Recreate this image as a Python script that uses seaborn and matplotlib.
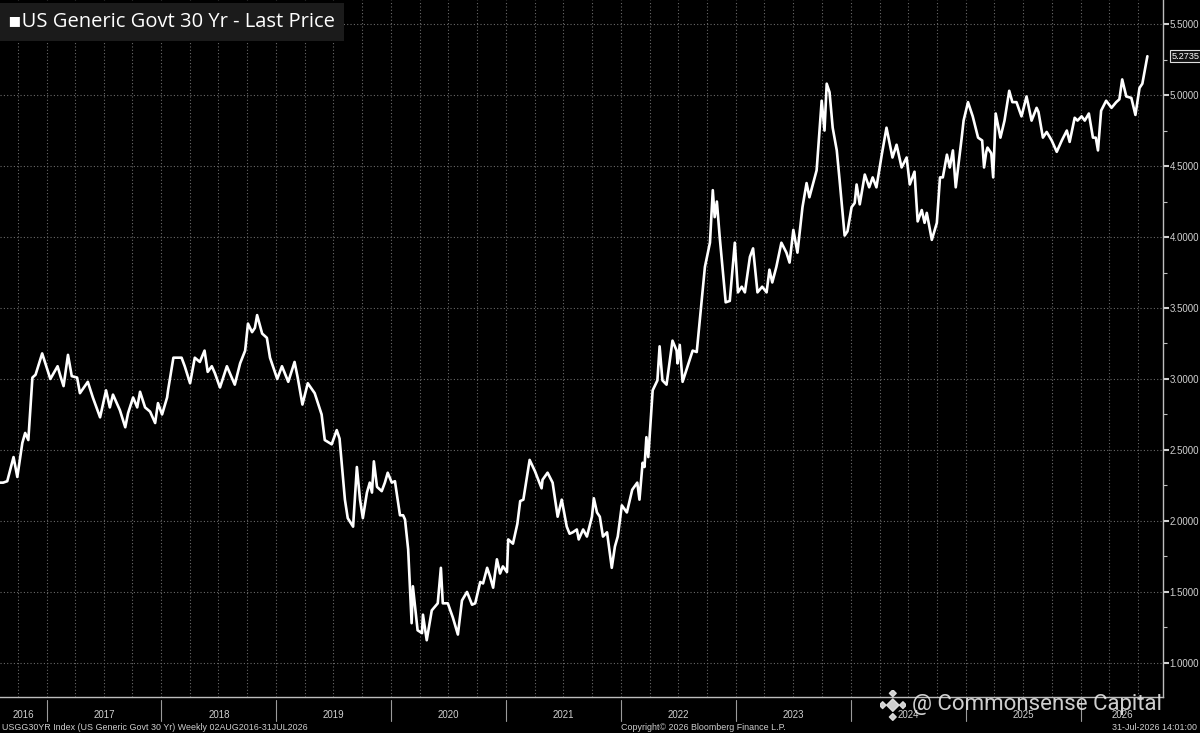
import pandas as pd
import numpy as np
import matplotlib.pyplot as plt
import matplotlib.dates as mdates
import matplotlib.ticker as mticker
import seaborn as sns

# --- data (weekly US 30y yield, approx. points) ---
dates = [
    '2016-08-02', '2016-08-16', '2016-08-29', '2016-09-18', '2016-09-30', '2016-10-16', '2016-10-25',
    '2016-11-04', '2016-11-17', '2016-11-27', '2016-12-18',
    '2017-01-13', '2017-02-05', '2017-02-14', '2017-02-24', '2017-03-10', '2017-03-22', '2017-04-08',
    '2017-04-17', '2017-05-12', '2017-05-28', '2017-06-20', '2017-07-09', '2017-07-21', '2017-07-31',
    '2017-08-22', '2017-09-08', '2017-09-17', '2017-10-03', '2017-10-16', '2017-10-25', '2017-11-10',
    '2017-11-26', '2017-12-12', '2017-12-21',
    '2018-01-03', '2018-01-19', '2018-01-22', '2018-02-08', '2018-03-06', '2018-03-16', '2018-04-02',
    '2018-04-17', '2018-05-03', '2018-05-18', '2018-05-28', '2018-06-10', '2018-06-20', '2018-07-06',
    '2018-07-28', '2018-08-22', '2018-09-08', '2018-09-24', '2018-10-03', '2018-10-16', '2018-10-25',
    '2018-11-01', '2018-11-17', '2018-12-02', '2018-12-12',
    '2019-01-04', '2019-01-19', '2019-02-08', '2019-02-28', '2019-03-10', '2019-03-25', '2019-04-11',
    '2019-05-03', '2019-05-25', '2019-06-04', '2019-06-26', '2019-07-12', '2019-07-21', '2019-08-07',
    '2019-08-16', '2019-09-02', '2019-09-14', '2019-09-24', '2019-10-03', '2019-10-16', '2019-10-25',
    '2019-11-01', '2019-11-07', '2019-11-17', '2019-12-02', '2019-12-12', '2019-12-21',
    '2020-01-03', '2020-01-13', '2020-01-29', '2020-02-08', '2020-02-14', '2020-02-24', '2020-03-06',
    '2020-03-10', '2020-03-25', '2020-04-08', '2020-04-11', '2020-04-23', '2020-05-09', '2020-05-28',
    '2020-06-07', '2020-06-13', '2020-06-29', '2020-07-15', '2020-07-31', '2020-08-13', '2020-08-29',
    '2020-09-14', '2020-09-24', '2020-10-10', '2020-10-19', '2020-11-01', '2020-11-10', '2020-11-20',
    '2020-12-02', '2020-12-12', '2020-12-21',
    '2021-01-03', '2021-01-07', '2021-01-22', '2021-02-05', '2021-02-14', '2021-02-24', '2021-03-16',
    '2021-04-02', '2021-04-23', '2021-04-26', '2021-05-12', '2021-05-28', '2021-06-13', '2021-06-26',
    '2021-07-12', '2021-07-21', '2021-07-31', '2021-08-13', '2021-08-19', '2021-09-02', '2021-09-14',
    '2021-09-30', '2021-10-06', '2021-10-16', '2021-10-25', '2021-11-04', '2021-11-17', '2021-12-02',
    '2021-12-12', '2021-12-21',
    '2022-01-03', '2022-01-19', '2022-02-05', '2022-02-21', '2022-02-28', '2022-03-10', '2022-03-16',
    '2022-03-22', '2022-03-28', '2022-04-11', '2022-04-26', '2022-05-03', '2022-05-12', '2022-05-25',
    '2022-06-13', '2022-06-26', '2022-06-29', '2022-07-06', '2022-07-15', '2022-08-16', '2022-08-29',
    '2022-09-24', '2022-10-10', '2022-10-19', '2022-10-25', '2022-11-01', '2022-11-10', '2022-11-29',
    '2022-12-12', '2022-12-28',
    '2023-01-07', '2023-01-19', '2023-01-29', '2023-02-14', '2023-02-24', '2023-03-10', '2023-03-25',
    '2023-04-08', '2023-04-17', '2023-04-26', '2023-05-09', '2023-05-25', '2023-06-10', '2023-06-20',
    '2023-07-02', '2023-07-15', '2023-07-31', '2023-08-13', '2023-08-22', '2023-09-14', '2023-09-30',
    '2023-10-09', '2023-10-16', '2023-10-25', '2023-11-04', '2023-11-17', '2023-11-26', '2023-12-12',
    '2023-12-21',
    '2024-01-03', '2024-01-13', '2024-01-19', '2024-01-29', '2024-02-14', '2024-02-28', '2024-03-10',
    '2024-03-22', '2024-04-08', '2024-04-23', '2024-05-12', '2024-05-25', '2024-06-10', '2024-06-26',
    '2024-07-06', '2024-07-21', '2024-07-31', '2024-08-13', '2024-08-22', '2024-08-29', '2024-09-14',
    '2024-09-30', '2024-10-10', '2024-10-19', '2024-11-01', '2024-11-10', '2024-11-20', '2024-11-29',
    '2024-12-18', '2024-12-24',
    '2025-01-07', '2025-01-22', '2025-02-08', '2025-02-21', '2025-02-27', '2025-03-06', '2025-03-10',
    '2025-03-22', '2025-03-28', '2025-04-05', '2025-04-20', '2025-05-03', '2025-05-18', '2025-05-28',
    '2025-06-10', '2025-06-26', '2025-07-12', '2025-07-28', '2025-08-13', '2025-08-19', '2025-09-02',
    '2025-09-14', '2025-09-30', '2025-10-16', '2025-11-01', '2025-11-17', '2025-11-26', '2025-12-12',
    '2025-12-21',
    '2026-01-03', '2026-01-13', '2026-01-26', '2026-02-08', '2026-02-17', '2026-02-24', '2026-03-06',
    '2026-03-22', '2026-04-08', '2026-04-23', '2026-05-03', '2026-05-12', '2026-05-25', '2026-06-10',
    '2026-06-23', '2026-07-06', '2026-07-15', '2026-07-31',
]
yields = [
    2.27, 2.27, 2.28, 2.45, 2.31, 2.55, 2.62,
    2.57, 3.01, 3.03, 3.18,
    3.00, 3.09, 3.02, 2.95, 3.17, 3.02, 3.01,
    2.90, 2.98, 2.87, 2.73, 2.92, 2.80, 2.89,
    2.78, 2.66, 2.76, 2.87, 2.80, 2.91, 2.80,
    2.77, 2.69, 2.83,
    2.75, 2.87, 2.92, 3.15, 3.15, 3.09, 2.97,
    3.15, 3.12, 3.20, 3.05, 3.09, 3.04, 2.94,
    3.09, 2.96, 3.11, 3.20, 3.39, 3.33, 3.36,
    3.45, 3.32, 3.29, 3.15,
    3.00, 3.09, 2.98, 3.12, 3.01, 2.82, 2.97,
    2.90, 2.75, 2.57, 2.54, 2.64, 2.58, 2.15,
    2.02, 1.96, 2.38, 2.15, 2.02, 2.20, 2.27,
    2.20, 2.42, 2.24, 2.21, 2.27, 2.34,
    2.27, 2.28, 2.04, 2.04, 2.01, 1.80, 1.28,
    1.54, 1.23, 1.21, 1.34, 1.16, 1.37, 1.42,
    1.67, 1.42, 1.42, 1.32, 1.20, 1.44, 1.50,
    1.41, 1.42, 1.57, 1.56, 1.67, 1.61, 1.53,
    1.73, 1.63, 1.68,
    1.64, 1.87, 1.84, 1.98, 2.14, 2.15, 2.43,
    2.35, 2.23, 2.29, 2.34, 2.27, 2.03, 2.15,
    1.96, 1.91, 1.92, 1.94, 1.87, 1.94, 1.89,
    2.03, 2.16, 2.06, 2.03, 1.89, 1.92, 1.67,
    1.82, 1.89,
    2.11, 2.06, 2.22, 2.27, 2.15, 2.41, 2.38,
    2.59, 2.45, 2.92, 2.99, 3.23, 2.99, 2.96,
    3.27, 3.20, 3.11, 3.24, 2.98, 3.20, 3.19,
    3.79, 3.96, 4.33, 4.14, 4.25, 4.00, 3.54,
    3.55, 3.96,
    3.61, 3.65, 3.61, 3.86, 3.92, 3.61, 3.65,
    3.61, 3.77, 3.68, 3.79, 3.96, 3.89, 3.82,
    4.05, 3.89, 4.21, 4.38, 4.28, 4.47, 4.96,
    4.75, 5.08, 5.02, 4.77, 4.61, 4.40, 4.01,
    4.04,
    4.21, 4.24, 4.37, 4.23, 4.44, 4.35, 4.42,
    4.35, 4.58, 4.77, 4.56, 4.65, 4.49, 4.56,
    4.37, 4.46, 4.11, 4.19, 4.10, 4.17, 3.98,
    4.10, 4.42, 4.42, 4.58, 4.49, 4.61, 4.35,
    4.70, 4.82,
    4.95, 4.85, 4.70, 4.68, 4.49, 4.60, 4.63,
    4.59, 4.42, 4.87, 4.70, 4.82, 5.03, 4.95,
    4.95, 4.85, 4.99, 4.82, 4.91, 4.88, 4.70,
    4.74, 4.68, 4.60, 4.68, 4.75, 4.67, 4.84,
    4.82,
    4.85, 4.82, 4.87, 4.70, 4.70, 4.61, 4.89,
    4.96, 4.91, 4.95, 4.97, 5.11, 4.99, 4.98,
    4.86, 5.05, 5.08, 5.2735,
]
years = list(range(2016, 2027))
y_ticks = [1.0, 1.5, 2.0, 2.5, 3.0, 3.5, 4.0, 4.5, 5.0, 5.5]

df = pd.DataFrame({'date': pd.to_datetime(dates), 'yield': yields}).sort_values('date')
last_val = df['yield'].iloc[-1]

sns.set_style('dark')
plt.rcParams['font.family'] = ['Liberation Sans', 'DejaVu Sans']

fig = plt.figure(figsize=(12, 7.33), dpi=100, facecolor='black')
ax = fig.add_axes([0, 0.0491, 0.969, 0.951])
ax.set_facecolor('black')

sns.lineplot(data=df, x='date', y='yield', color='white', linewidth=1.9, ax=ax)

x_left = pd.Timestamp('2016-08-06')
x_right = pd.Timestamp('2026-09-18')
ax.set_xlim(x_left, x_right)
ax.set_ylim(0.76, 5.67)

# axes / spines
for s in ['top', 'left']:
    ax.spines[s].set_visible(False)
for s in ['right', 'bottom']:
    ax.spines[s].set_color('#bdbdbd')
    ax.spines[s].set_linewidth(1.0)

ax.yaxis.tick_right()
ax.set_yticks(y_ticks)
ax.yaxis.set_minor_locator(mticker.MultipleLocator(0.25))
ax.yaxis.set_major_formatter(mticker.FormatStrFormatter('%.4f'))
ax.tick_params(axis='y', which='major', direction='out', length=4, width=1.5,
               color='#d0d0d0', labelcolor='#d0d0d0', labelsize=7, pad=1)
ax.tick_params(axis='y', which='minor', direction='out', length=3, width=0.8, color='#bdbdbd')

ax.xaxis.set_major_locator(mdates.MonthLocator(bymonth=[1, 4, 7, 10]))
ax.xaxis.set_minor_locator(mdates.MonthLocator())
ax.tick_params(axis='x', which='both', direction='inout', length=5, width=0.8,
               color='#bdbdbd', labelbottom=False)
ax.set_xlabel('')
ax.set_ylabel('')

ax.grid(True, which='major', color='#6a6a6a', linestyle=(0, (1, 2)), linewidth=0.8)
ax.grid(False, which='minor')

# year separators and labels under the axis
xt = ax.get_xaxis_transform()
for yr in years[1:]:
    ax.plot([pd.Timestamp(f'{yr}-01-01')] * 2, [-0.004, -0.034], color='#9a9a9a',
            linewidth=0.8, transform=xt, clip_on=False)
for yr in years:
    a = max(pd.Timestamp(f'{yr}-01-01'), x_left)
    b = min(pd.Timestamp(f'{yr + 1}-01-01'), x_right)
    ax.text(a + (b - a) / 2, -0.026, str(yr), transform=xt, ha='center', va='center',
            fontsize=7, color='#cfcfcf', zorder=1)

# last value tag
ax.text(1.0075, last_val, f'{last_val:.4f}', transform=ax.get_yaxis_transform(),
        ha='left', va='center', fontsize=6.6, color='white',
        bbox=dict(boxstyle='square,pad=0.15', facecolor='#111111', edgecolor='#e0e0e0', linewidth=0.8))

# legend box
fig.text(0.0065, 0.9705, '\u25aaUS Generic Govt 30 Yr - Last Price', ha='left', va='center',
         fontsize=14.5, color='white', family=['Open Sans', 'DejaVu Sans'],
         bbox=dict(boxstyle='square,pad=0.45', facecolor='#1b1b1b', edgecolor='none'))

# footer
fig.text(0.002, 0.0075, 'USGG30YR Index (US Generic Govt 30 Yr) Weekly 02AUG2016-31JUL2026',
         ha='left', va='center', fontsize=6.4, color='#cfcfcf')
fig.text(0.5175, 0.0075, 'Copyright\u00a9 2026 Bloomberg Finance L.P.',
         ha='left', va='center', fontsize=6.4, color='#cfcfcf')
fig.text(0.9975, 0.0075, '31-Jul-2026 14:01:00',
         ha='right', va='center', fontsize=6.4, color='#cfcfcf')

# watermark
fig.text(0.76, 0.0395, '@ Commonsense Capital', ha='left', va='center', fontsize=16,
         color='#e6e6e6', alpha=0.9, family=['Roboto', 'DejaVu Sans'], zorder=5)
logo = fig.add_axes([0.733, 0.017, 0.022, 0.042])
logo.set_xlim(-1.3, 1.3)
logo.set_ylim(-1.3, 1.3)
logo.axis('off')
logo.scatter([0, 0, 0, 1, -1], [0, 1, -1, 0, 0], marker='D', s=[40, 12, 12, 12, 12],
             color='#e6e6e6', alpha=0.9)

plt.savefig('out.png', dpi=100, facecolor='black')
